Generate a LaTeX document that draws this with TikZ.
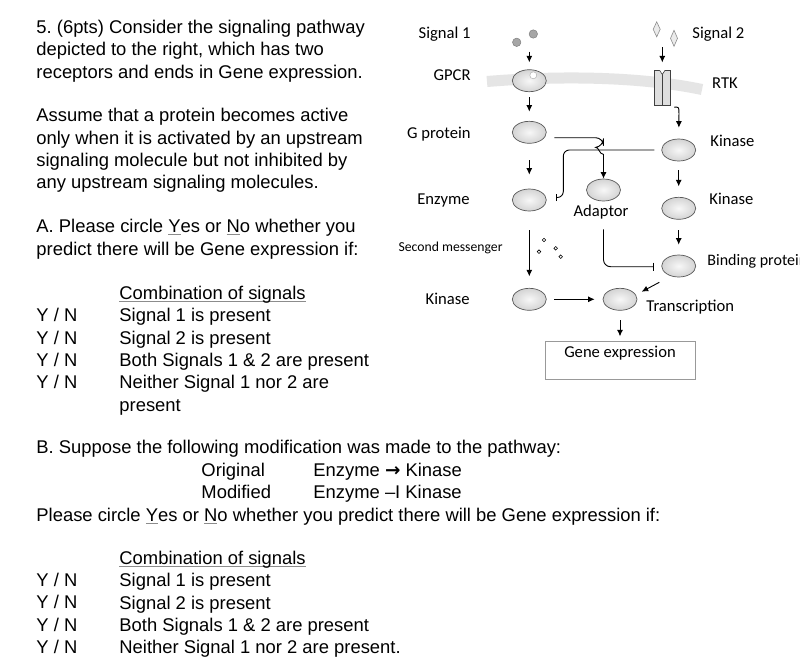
\documentclass[tikz,border=0pt]{standalone}
\usepackage{fontspec}
\setmainfont{Liberation Sans}
\newfontfamily\labfont{Carlito}
\newfontfamily\symfont{DejaVu Sans}
\usetikzlibrary{shapes.geometric,arrows.meta,calc}
\frenchspacing

\newsavebox\ulbox
\newcommand{\ulin}[1]{\sbox\ulbox{#1}\rlap{\color{black!45}\rule[-2.4pt]{\wd\ulbox}{0.7pt}}\usebox\ulbox}
\newcommand{\txtlines}[1]{\begin{tabular}[t]{@{}l@{}}#1\end{tabular}}

\begin{document}
\begin{tikzpicture}[x=1pt,y=-1pt,
  prot/.style = {draw=black!65, line width=0.7pt, ellipse, inner color=black!3, outer color=black!17, minimum width=34pt, minimum height=22pt, inner sep=0pt},
  lab/.style = {font=\labfont\fontsize{16.6}{20}\selectfont, inner sep=0pt},
  txt/.style = {font=\fontsize{18.4}{22.4}\selectfont, anchor=base west, inner sep=0pt},
  >={Latex[length=6.5pt,width=6pt]}, line width=0.9pt]
        \fill[white] (0,0) rectangle (800,665);
        \useasboundingbox (0,0) rectangle (800,665);

        % question text
        \node[txt] (q) at (36,33.3) {\txtlines{5. (6pts) Consider the signaling pathway\\depicted to the right, which has two\\receptors and ends in Gene expression.}};
        \node[txt] (assume) at (36,121.7) {\txtlines{Assume that a protein becomes active\\only when it is activated by an upstream\\signaling molecule but not inhibited by\\any upstream signaling molecules.}};
        \node[txt] (pa) at (36,232.7) {\txtlines{A. Please circle \ulin{Y}es or \ulin{N}o whether you\\predict there will be Gene expression if:}};
        \node[txt] (yna) at (36,321.7) {\txtlines{Y / N\\Y / N\\Y / N\\Y / N}};
        \node[txt] (ca) at (119,299.3) {\txtlines{\ulin{Combination of signals}\\Signal 1 is present\\Signal 2 is present\\Both Signals 1 \& 2 are present\\Neither Signal 1 nor 2 are\\present}};
        \node[txt] (pb) at (36,453.5) {B. Suppose the following modification was made to the pathway:};
        \node[txt] (om) at (201,476) {\txtlines{Original\\Modified}};
        \node[txt] (em) at (313,476) {\txtlines{Enzyme {\symfont\bfseries →} Kinase\\Enzyme –I Kinase}};
        \node[txt] (pb2) at (36,521) {Please circle \ulin{Y}es or \ulin{N}o whether you predict there will be Gene expression if:};
        \node[txt] (ynb) at (36,586.5) {\txtlines{Y / N\\Y / N\\Y / N\\Y / N}};
        \node[txt] (cb) at (119,564.3) {\txtlines{\ulin{Combination of signals}\\Signal 1 is present\\Signal 2 is present\\Both Signals 1 \& 2 are present\\Neither Signal 1 nor 2 are present.}};

        % membrane and receptors
        \draw[line width=11pt, black!10] (487,81.5) .. controls (560,75.5) and (640,76.5) .. (702,89.5);
        \node[prot] (1) at (529.3,80.7) {};
        \draw[fill=white, draw=black!30, line width=0.5pt] ($(1)+(4,-5.4)$) circle[radius=3.5];
        \node[draw=black!75, fill=black!13, line width=0.6pt, minimum width=16.7pt, minimum height=34.3pt, inner sep=0pt] (r) at (662.3,87.9) {};
        \draw[black!75, line width=0.6pt] ($(r.north)+(0,4)$) -- (r.south);
        \fill[white] ($(r.north)+(-2.6,-0.4)$) -- ($(r.north)+(0,4)$) -- ($(r.north)+(2.6,-0.4)$) -- cycle;
        \draw[black!75, line width=0.6pt] ($(r.north)+(-2.6,0)$) -- ($(r.north)+(0,4)$) -- ($(r.north)+(2.6,0)$);

        % signals
        \filldraw[fill=black!35, draw=black!50, line width=0.5pt] (516.7,42.3) circle[radius=4.2] (533.3,34) circle[radius=4.2];
        \filldraw[fill=black!8, draw=black!45, line width=0.6pt] (656.7,21.8) -- (660.2,29.3) -- (656.7,36.8) -- (653.2,29.3) -- cycle;
        \filldraw[fill=black!8, draw=black!45, line width=0.6pt] (674,30.3) -- (677.5,38.3) -- (674,46.3) -- (670.5,38.3) -- cycle;
        \coordinate (s1) at (529.3,51.7);
        \coordinate (s2) at (662.3,47);

        % pathway
        \node[prot] (2) at (529.3,132.3) {};
        \node[prot] (3) at (529.3,200) {};
        \node[prot] (4) at (603.5,190) {};
        \node[prot] (5) at (678.7,150) {};
        \node[prot] (6) at (678.7,208.3) {};
        \node[prot] (7) at (678.7,266) {};
        \node[prot] (8) at (529.3,299.3) {};
        \node[prot] (9) at (620,299.3) {};
        \node[draw=black!40, line width=0.7pt, minimum width=149.7pt, minimum height=37.6pt, inner sep=0pt] (10) at (620,360.5) {};
        \filldraw[fill=white, line width=0.6pt] (544,240) circle[radius=1.8] (539,251.7) circle[radius=1.8] (555.7,248.3) circle[radius=1.8] (560.7,256.7) circle[radius=1.8];

        % labels
        \node[lab, anchor=base east] (sig1) at (471,38.3) {Signal 1};
        \node[lab, anchor=base west] (sig2) at (692,38.3) {Signal 2};
        \node[lab, anchor=base east] (gpcr) at (471,80) {GPCR};
        \node[lab, anchor=base west] (rtk) at (711.7,88.3) {RTK};
        \node[lab, anchor=base east] (gprot) at (471,138.3) {G protein};
        \node[lab, anchor=base west] (kin1) at (710,146) {Kinase};
        \node[lab, anchor=base east] (enz) at (470,204.3) {Enzyme};
        \node[lab, anchor=base] (adapt) at (601,216) {Adaptor};
        \node[lab, anchor=base west] (kin2) at (709,204.3) {Kinase};
        \node[lab, font=\labfont\fontsize{13.7}{16}\selectfont, anchor=base east] (mess) at (503,251.7) {Second messenger};
        \node[lab, font=\labfont\fontsize{16}{20}\selectfont, anchor=base west] (bind) at (707,265) {Binding protein};
        \node[lab, anchor=base east] (kin3) at (470,304) {Kinase};
        \node[lab, anchor=base west] (trans) at (646,311.7) {Transcription};
        \node[lab, anchor=base] (gene) at ($(10.north)+(0,16.6)$) {Gene expression};

        % connectors
        \draw[->, shorten >=7pt] (s1) -- (1);
        \draw[->, shorten >=8pt] (s2) -- (r);
        \draw[->, shorten <=5.3pt, shorten >=9.3pt] (1) -- (2);
        \draw[->, shorten <=16.7pt, shorten >=14pt] (2) -- (3);
        \draw[->, shorten <=19pt, shorten >=11.6pt] (3) -- (8);
        \draw[->, shorten <=7.7pt, shorten >=8pt] (8) -- (9);
        \draw[->, shorten <=9.7pt, shorten >=5pt] (9) -- (10);
        \draw[->, shorten >=11pt] ($(r.south east)+(3.3,1.7)$) .. controls ($(r.south east)+(8,1.7)$) .. ($(r.south east)+(8,8)$) -- (5);
        \draw[->, shorten <=9pt, shorten >=10.6pt] (5) -- (6);
        \draw[->, shorten <=10.7pt, shorten >=10pt] (6) -- (7);
        \draw[->] ($(7)+(-19.4,16.3)$) -- ($(9)+(21.7,-7.6)$);
        \draw[-{Bar[width=7pt]}, rounded corners=6pt, shorten <=7pt] (5.west) -- (563.3,150) -- (563.3,197.5) -- ($(3.east)+(9.7,-2.5)$);
        \draw[->, rounded corners=8pt] ($(2)+(25,5.4)$) -- (603.5,137.7) -- (603.5,146.5) [sharp corners] .. controls (599,147) and (599,154) .. (603.5,154.5) -- (4);
        \draw[-{Bar[width=8pt]}, rounded corners=7pt, shorten <=28pt] (4) -- (603.5,266.7) -- ($(7.west)+(-7.7,0.7)$);
\end{tikzpicture}
\end{document}
